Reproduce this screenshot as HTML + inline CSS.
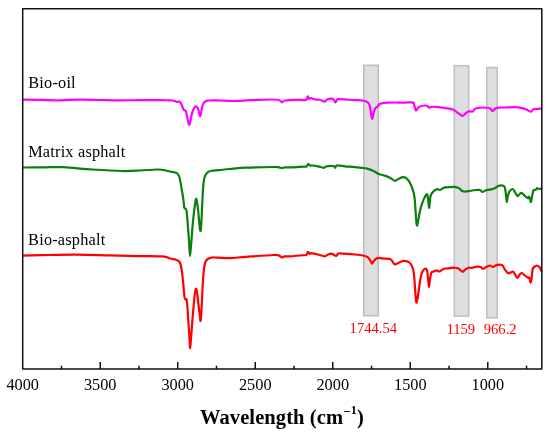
<!DOCTYPE html>
<html><head><meta charset="utf-8"><title>FTIR spectra</title>
<style>
html,body{margin:0;padding:0;background:#fff;}
body{width:550px;height:434px;overflow:hidden;}
svg{display:block;}
text{font-family:"Liberation Serif","Times New Roman",serif;}
</style></head><body>
<svg width="550" height="434" viewBox="0 0 550 434">
<rect x="0" y="0" width="550" height="434" fill="#fff"/>
<g fill="#dedede" stroke="#c0c0c0" stroke-width="1.6">
<rect x="363.8" y="65.3" width="14.4" height="250.4"/>
<rect x="454.3" y="65.7" width="14.4" height="250.4"/>
<rect x="486.8" y="67.6" width="10.4" height="250.2"/>
</g>
<g fill="none" stroke-width="2.2" stroke-linejoin="round" stroke-linecap="round">
<path stroke="#ff00ff" d="M23.0,99.7 C25.8,99.7 33.8,99.7 40.0,99.8 C46.2,99.9 53.3,100.3 60.0,100.3 C66.7,100.3 73.3,99.6 80.0,99.6 C86.7,99.5 93.3,99.9 100.0,100.0 C106.7,100.1 113.3,100.3 120.0,100.3 C126.7,100.3 133.3,100.2 140.0,100.2 C146.7,100.2 155.3,100.1 160.0,100.1 C164.7,100.1 165.9,100.2 168.0,100.3 C170.1,100.4 171.2,100.3 172.4,100.5 C173.6,100.7 174.7,101.0 175.4,101.2 C176.1,101.4 176.1,101.9 176.7,101.9 C177.3,101.9 178.2,101.2 178.9,101.4 C179.6,101.6 180.2,102.2 180.7,102.9 C181.2,103.6 181.6,104.6 182.0,105.6 C182.4,106.6 182.9,108.3 183.3,109.1 C183.7,109.9 184.2,110.1 184.6,110.4 C185.0,110.8 185.5,110.2 185.9,111.2 C186.3,112.2 186.7,114.7 187.1,116.5 C187.5,118.3 187.9,120.8 188.3,122.2 C188.7,123.6 189.0,124.9 189.3,124.8 C189.6,124.7 189.9,123.4 190.3,121.7 C190.7,120.0 191.1,116.7 191.6,114.7 C192.1,112.7 192.7,110.9 193.4,109.5 C194.1,108.1 195.0,106.8 195.6,106.4 C196.2,106.0 196.5,106.4 196.9,106.9 C197.3,107.4 197.8,108.3 198.2,109.5 C198.6,110.7 199.0,112.8 199.3,113.9 C199.6,115.0 199.9,116.2 200.2,116.1 C200.5,115.9 200.8,114.5 201.1,113.0 C201.4,111.5 201.7,108.5 202.1,106.9 C202.5,105.3 202.8,104.4 203.4,103.4 C204.0,102.5 204.7,101.7 205.6,101.2 C206.5,100.7 208.0,100.7 209.1,100.5 C210.2,100.3 210.2,100.3 212.0,100.3 C213.8,100.3 216.7,100.4 220.0,100.5 C223.3,100.6 227.0,101.0 232.0,101.0 C237.0,101.0 243.3,100.5 250.0,100.2 C256.7,100.0 267.2,99.5 272.0,99.5 C276.8,99.5 277.3,99.5 279.0,100.0 C280.7,100.5 281.0,102.2 282.0,102.3 C283.0,102.4 282.0,100.9 285.0,100.5 C288.0,100.1 296.5,100.0 300.0,99.9 C303.5,99.8 304.7,100.6 306.0,100.0 C307.3,99.4 307.3,96.7 307.8,96.5 C308.3,96.3 308.5,98.8 309.0,99.0 C309.5,99.2 310.0,97.9 311.0,98.0 C312.0,98.1 313.5,99.2 315.0,99.5 C316.5,99.8 318.4,99.4 320.0,99.8 C321.6,100.2 323.3,101.8 324.5,101.7 C325.7,101.7 325.8,100.0 327.0,99.5 C328.2,99.0 330.7,98.6 331.8,98.6 C332.9,98.6 332.9,98.9 333.5,99.5 C334.1,100.1 334.8,102.3 335.5,102.3 C336.2,102.2 336.8,99.7 337.5,99.2 C338.2,98.7 337.5,99.1 340.0,99.2 C342.9,99.3 351.4,99.9 355.0,100.1 C358.6,100.3 359.8,100.1 361.5,100.3 C363.2,100.5 364.4,100.9 365.5,101.3 C366.6,101.7 367.6,102.1 368.3,102.9 C369.0,103.7 369.5,104.8 369.9,106.1 C370.3,107.4 370.4,109.2 370.7,111.0 C371.0,112.8 371.2,115.3 371.5,116.6 C371.8,117.9 372.0,119.0 372.2,119.0 C372.4,119.0 372.6,117.8 372.9,116.6 C373.2,115.4 373.6,113.2 374.0,111.8 C374.4,110.4 374.8,108.8 375.2,108.1 C375.6,107.3 376.0,107.6 376.4,107.3 C376.8,107.0 377.1,107.0 377.6,106.5 C378.1,106.0 378.5,105.0 379.2,104.5 C379.9,104.0 380.2,103.6 381.6,103.3 C383.0,103.0 385.1,102.8 387.3,102.7 C389.5,102.6 392.1,102.5 395.0,102.5 C397.9,102.5 402.0,102.6 405.0,102.6 C408.0,102.6 411.4,102.0 413.0,102.6 C414.5,103.2 414.0,104.7 414.5,106.0 C415.0,107.3 415.4,110.2 416.0,110.5 C416.6,110.8 417.3,108.7 418.0,108.0 C418.7,107.3 418.8,106.9 420.0,106.5 C421.2,106.1 424.2,105.6 425.5,105.5 C426.8,105.4 426.9,105.6 427.5,106.0 C428.1,106.4 428.4,107.5 429.0,107.7 C429.6,107.9 429.8,107.2 431.0,107.0 C432.2,106.8 433.7,106.6 436.0,106.8 C438.3,107.0 442.2,107.5 445.0,108.0 C447.8,108.5 450.5,108.7 452.7,109.5 C454.9,110.3 456.4,111.9 458.0,113.0 C459.6,114.1 461.1,115.9 462.4,115.9 C463.7,115.9 464.9,113.8 466.0,113.0 C467.1,112.2 467.9,111.7 469.0,111.4 C470.1,111.1 471.5,111.9 472.7,111.4 C473.9,110.9 473.7,108.9 476.4,108.3 C479.1,107.7 486.3,107.5 489.0,108.0 C491.7,108.5 491.2,111.0 492.5,111.0 C493.8,111.0 494.4,108.5 496.5,107.9 C498.6,107.3 501.4,107.6 505.0,107.5 C508.6,107.4 514.5,107.0 518.0,107.3 C521.5,107.6 523.7,108.5 525.8,109.2 C527.9,109.9 529.4,111.7 530.7,111.7 C532.0,111.7 531.7,109.7 533.5,109.2 C535.3,108.7 540.2,108.6 541.5,108.5"/>
<path stroke="#0a800a" d="M23.0,167.5 C26.7,167.5 38.2,167.4 45.0,167.3 C51.8,167.2 55.6,166.8 63.6,167.2 C71.5,167.6 83.0,168.9 92.7,169.5 C102.4,170.1 113.9,170.8 121.8,171.0 C129.7,171.2 134.2,170.8 140.0,170.5 C145.8,170.2 152.9,169.6 156.7,169.5 C160.5,169.4 160.8,169.7 163.0,170.0 C165.2,170.3 167.7,171.0 170.0,171.5 C172.3,172.0 175.4,172.3 176.9,173.1 C178.4,173.9 178.4,174.0 179.2,176.5 C180.0,179.0 180.8,184.2 181.5,188.0 C182.2,191.8 182.9,196.3 183.4,199.6 C183.9,202.9 183.9,206.2 184.3,207.7 C184.7,209.2 185.3,208.2 185.7,208.8 C186.1,209.4 186.2,208.1 186.6,211.2 C187.0,214.3 187.6,221.9 188.0,227.3 C188.4,232.7 188.9,238.7 189.2,243.5 C189.5,248.3 189.7,256.2 190.0,256.2 C190.3,256.2 190.7,249.5 191.2,243.5 C191.7,237.5 192.4,227.3 193.1,220.4 C193.8,213.5 194.8,205.4 195.4,201.9 C196.0,198.4 196.0,198.1 196.5,199.6 C197.0,201.1 197.7,207.0 198.2,211.2 C198.7,215.4 199.1,221.7 199.5,225.0 C199.9,228.3 200.3,232.0 200.7,230.8 C201.0,229.7 201.2,224.4 201.6,218.1 C201.9,211.8 202.4,199.2 202.8,192.7 C203.2,186.1 203.5,182.1 204.2,178.8 C204.9,175.5 205.7,174.4 206.9,173.1 C208.1,171.8 209.5,171.3 211.5,170.8 C213.5,170.3 215.9,170.4 219.0,170.1 C222.1,169.8 225.4,169.4 230.0,169.0 C234.6,168.6 239.1,168.0 246.4,167.7 C253.7,167.4 268.2,167.1 273.6,167.0 C279.0,166.9 277.6,167.1 279.0,167.3 C280.4,167.5 280.8,168.1 281.8,168.1 C282.8,168.1 283.3,167.5 285.0,167.4 C286.7,167.3 288.6,167.5 291.8,167.4 C295.1,167.3 302.1,166.7 304.5,166.6 C306.5,166.5 305.9,167.0 306.5,166.6 C307.1,166.2 307.6,164.3 308.2,164.1 C308.8,163.9 309.4,165.3 310.0,165.5 C310.6,165.7 310.7,165.4 312.0,165.5 C313.3,165.6 316.1,165.9 318.0,166.3 C319.9,166.7 322.3,167.8 323.6,167.8 C324.9,167.8 324.8,166.8 326.0,166.5 C327.2,166.2 329.7,165.9 331.0,165.9 C332.3,165.9 333.3,166.0 334.0,166.3 C334.7,166.6 334.9,167.9 335.3,167.8 C335.8,167.7 335.3,165.8 336.7,165.5 C338.3,165.2 341.9,166.0 345.0,166.3 C348.1,166.6 352.2,166.9 355.0,167.2 C357.8,167.5 359.9,167.7 362.0,167.9 C364.1,168.1 365.2,168.0 367.3,168.6 C369.4,169.2 372.7,170.6 374.5,171.4 C376.3,172.2 376.4,172.9 378.2,173.7 C380.0,174.4 383.4,175.1 385.5,175.9 C387.6,176.7 389.3,177.5 390.9,178.3 C392.4,179.1 393.5,180.7 394.8,180.8 C396.1,180.9 397.5,179.3 398.9,178.7 C400.2,178.1 401.7,177.2 402.9,177.1 C404.1,177.0 405.0,177.4 406.1,178.2 C407.2,179.0 408.3,180.1 409.4,181.9 C410.5,183.7 411.8,186.6 412.6,189.2 C413.5,191.8 414.0,193.8 414.5,197.3 C415.0,200.8 415.2,206.2 415.5,210.2 C415.8,214.2 416.0,218.9 416.3,221.5 C416.6,224.1 416.8,225.7 417.1,225.5 C417.4,225.3 417.8,222.9 418.2,220.6 C418.6,218.3 419.2,214.4 419.8,211.8 C420.4,209.2 420.8,207.5 421.5,205.3 C422.2,203.2 423.1,200.7 423.9,198.9 C424.7,197.2 425.7,195.5 426.3,194.8 C426.9,194.1 427.0,193.6 427.4,194.8 C427.8,196.0 428.1,199.9 428.4,202.1 C428.7,204.2 428.9,208.5 429.2,207.7 C429.5,206.9 429.9,199.7 430.3,197.3 C430.8,194.9 431.1,194.4 431.9,193.2 C432.7,192.0 434.2,190.7 435.2,190.0 C436.1,189.3 436.8,189.2 437.6,189.2 C438.4,189.2 439.2,190.1 440.0,190.0 C440.8,189.9 441.5,188.8 442.4,188.4 C443.3,188.0 444.1,187.5 445.6,187.3 C447.1,187.1 449.8,187.2 451.3,187.1 C452.8,187.0 453.1,186.6 454.5,186.8 C455.9,187.0 458.2,187.7 459.4,188.4 C460.6,189.1 460.9,190.3 461.8,190.8 C462.7,191.3 463.8,191.6 465.0,191.6 C466.2,191.6 467.6,191.3 469.3,191.0 C471.1,190.7 473.7,190.2 475.5,190.0 C477.3,189.8 479.0,189.7 480.1,190.0 C481.2,190.3 481.5,191.9 482.4,192.0 C483.3,192.1 484.1,190.9 485.5,190.5 C486.9,190.1 489.3,189.8 490.9,189.4 C492.4,189.0 493.5,188.8 494.8,188.2 C496.1,187.6 497.3,186.3 498.6,185.9 C499.9,185.5 501.5,185.3 502.5,185.6 C503.5,185.8 504.2,185.7 504.8,187.4 C505.4,189.1 505.8,193.5 506.1,195.9 C506.4,198.3 506.5,202.1 506.8,202.1 C507.1,202.1 507.4,197.7 507.9,195.9 C508.3,194.1 508.7,192.5 509.5,191.3 C510.3,190.2 511.7,188.9 512.6,189.0 C513.5,189.1 514.1,190.8 514.9,192.0 C515.7,193.2 516.6,195.4 517.2,195.9 C517.8,196.4 518.1,195.6 518.7,195.1 C519.4,194.6 520.3,192.9 521.1,192.8 C521.9,192.7 522.6,193.8 523.4,194.4 C524.2,195.1 524.9,196.1 525.7,196.7 C526.5,197.3 527.4,198.2 528.0,198.2 C528.6,198.2 528.7,196.0 529.2,196.7 C529.7,197.3 530.3,202.0 530.8,202.1 C531.2,202.2 531.5,199.4 531.9,197.5 C532.3,195.6 532.8,191.8 533.4,190.5 C534.0,189.2 535.1,190.1 535.7,189.7 C536.4,189.3 536.8,188.3 537.3,188.2 C537.8,188.1 538.1,188.9 538.8,189.0 C539.5,189.1 541.0,188.6 541.5,188.5"/>
<path stroke="#ff0000" d="M23.0,255.6 C27.5,255.5 40.8,255.2 50.0,255.0 C59.2,254.8 68.0,254.6 78.0,254.7 C88.0,254.8 100.3,255.2 110.0,255.4 C119.7,255.6 127.7,255.9 136.4,256.1 C145.2,256.3 156.9,256.0 162.5,256.4 C168.1,256.8 167.8,257.9 170.0,258.5 C172.2,259.1 174.4,259.1 176.0,259.7 C177.6,260.3 178.8,260.5 179.7,262.1 C180.6,263.7 181.0,265.8 181.6,269.4 C182.2,273.0 182.8,279.3 183.3,283.9 C183.8,288.5 184.1,294.6 184.5,297.2 C184.9,299.8 185.3,299.0 185.7,299.6 C186.1,300.2 186.5,297.8 186.9,300.8 C187.3,303.8 187.7,311.6 188.1,317.7 C188.5,323.8 189.1,332.1 189.4,337.1 C189.7,342.2 189.8,348.4 190.1,348.0 C190.4,347.6 190.8,340.6 191.3,334.7 C191.8,328.8 192.4,319.8 193.0,312.9 C193.6,306.0 194.4,297.6 194.9,293.6 C195.4,289.6 195.5,288.9 195.9,288.7 C196.3,288.5 196.7,289.5 197.1,292.3 C197.5,295.1 198.1,301.4 198.6,305.6 C199.1,309.8 199.7,315.3 200.0,317.7 C200.3,320.1 200.4,322.2 200.7,320.2 C201.0,318.2 201.3,312.5 201.7,305.6 C202.1,298.7 202.6,285.6 203.1,279.0 C203.6,272.4 203.8,268.9 204.4,265.7 C205.0,262.5 205.7,261.0 206.8,259.7 C207.9,258.4 209.7,258.1 211.1,257.7 C212.5,257.3 213.7,257.5 215.0,257.5 C216.3,257.5 216.5,257.6 219.0,257.7 C221.5,257.8 225.5,258.2 230.0,258.1 C234.5,258.0 238.7,257.3 246.0,256.8 C253.3,256.3 268.1,255.2 273.6,255.0 C279.0,254.8 277.6,255.2 279.0,255.6 C280.4,256.0 281.0,257.3 282.0,257.4 C283.0,257.5 283.5,256.5 285.0,256.3 C286.5,256.1 287.7,256.5 291.0,256.3 C294.3,256.1 302.4,255.2 305.0,255.0 C306.5,254.8 306.0,255.5 306.5,255.0 C307.0,254.5 307.5,252.0 308.0,251.8 C308.5,251.6 309.0,253.8 309.5,254.0 C310.0,254.2 309.6,253.0 311.0,253.1 C312.4,253.2 315.8,253.9 318.0,254.5 C320.2,255.1 322.8,256.4 324.5,256.4 C326.2,256.4 326.9,255.0 328.0,254.5 C329.1,254.0 330.1,253.6 331.0,253.6 C331.9,253.6 332.7,254.1 333.5,254.5 C334.3,254.9 335.2,256.1 336.0,256.0 C336.8,255.9 337.3,254.2 338.0,253.8 C338.7,253.4 338.0,253.2 340.0,253.3 C342.8,253.4 351.2,254.1 355.0,254.5 C358.8,254.9 360.8,255.0 363.0,255.5 C365.2,256.0 366.8,256.4 368.0,257.3 C369.2,258.2 369.8,259.9 370.5,261.0 C371.2,262.1 371.5,263.5 372.0,263.6 C372.5,263.7 372.9,262.2 373.5,261.5 C374.1,260.8 374.8,259.7 375.5,259.1 C376.2,258.6 376.4,258.3 378.0,258.2 C379.6,258.1 382.8,258.4 385.0,258.6 C387.2,258.8 389.4,258.7 391.0,259.6 C392.6,260.5 393.1,263.7 394.4,264.2 C395.7,264.7 397.2,263.4 398.7,262.8 C400.1,262.2 401.6,261.1 403.1,260.9 C404.6,260.7 406.2,261.0 407.5,261.6 C408.8,262.2 410.1,263.0 411.1,264.5 C412.1,266.0 412.8,268.0 413.3,270.4 C413.9,272.8 414.1,275.7 414.4,279.1 C414.7,282.5 414.9,287.3 415.2,290.7 C415.4,294.1 415.7,297.5 415.9,299.5 C416.1,301.5 416.3,302.9 416.6,302.7 C416.9,302.4 417.2,300.5 417.6,298.0 C418.0,295.5 418.6,291.3 419.1,287.8 C419.6,284.3 420.2,279.7 420.8,276.9 C421.4,274.1 421.9,272.5 422.7,271.1 C423.5,269.7 424.9,268.7 425.6,268.6 C426.3,268.5 426.7,268.6 427.1,270.4 C427.5,272.1 427.8,276.3 428.1,279.1 C428.4,281.9 428.7,287.1 429.0,287.1 C429.3,287.1 429.6,281.5 430.0,279.1 C430.4,276.7 430.9,273.8 431.5,272.5 C432.1,271.2 432.8,271.9 433.6,271.5 C434.4,271.1 435.5,270.4 436.5,270.4 C437.5,270.4 438.5,271.6 439.5,271.5 C440.5,271.4 441.4,270.1 442.4,269.6 C443.4,269.1 444.1,268.7 445.3,268.5 C446.5,268.3 448.2,268.3 449.6,268.2 C451.1,268.1 452.5,267.6 454.0,267.7 C455.5,267.8 457.0,267.8 458.4,268.5 C459.8,269.2 461.5,271.4 462.5,271.7 C463.5,272.0 463.6,270.8 464.6,270.1 C465.6,269.5 467.2,268.2 468.5,267.8 C469.8,267.4 471.0,268.0 472.4,267.8 C473.8,267.6 475.6,266.8 477.0,266.7 C478.4,266.6 479.9,266.6 480.9,267.0 C481.9,267.4 482.0,268.9 482.9,268.9 C483.8,268.9 485.1,267.6 486.3,267.0 C487.5,266.4 489.0,265.5 490.1,265.5 C491.2,265.5 491.8,267.1 492.8,267.0 C493.8,266.9 495.1,265.5 496.3,265.1 C497.5,264.7 499.2,264.6 500.2,264.7 C501.2,264.8 501.7,264.7 502.5,265.5 C503.3,266.3 503.9,268.0 504.8,269.3 C505.7,270.6 506.9,272.7 507.9,273.2 C508.9,273.7 510.1,272.7 511.0,272.4 C511.9,272.1 512.5,271.1 513.3,271.6 C514.1,272.1 514.9,274.5 515.6,275.5 C516.3,276.5 516.9,277.9 517.5,277.8 C518.1,277.7 518.8,275.5 519.5,274.7 C520.2,273.9 520.9,273.1 521.8,273.2 C522.7,273.3 523.9,274.7 524.9,275.5 C525.9,276.3 527.3,277.5 528.0,277.8 C528.7,278.1 528.8,276.7 529.2,277.5 C529.6,278.3 530.1,282.3 530.5,282.5 C530.9,282.7 531.2,280.8 531.6,278.6 C532.0,276.4 532.2,271.2 532.6,269.3 C533.0,267.4 533.4,267.6 534.2,267.0 C535.0,266.4 536.4,265.4 537.3,265.5 C538.2,265.6 538.9,266.4 539.6,267.3 C540.3,268.2 541.2,270.4 541.5,271.0"/>
</g>
<g stroke="#111" stroke-width="1.5" fill="none" stroke-linejoin="round">
<path d="M22.7,8.7 H541.8 V369.0 H22.7 Z"/>
<line x1="61.46" y1="369.00" x2="61.46" y2="365.70"/><line x1="100.22" y1="369.00" x2="100.22" y2="362.00"/><line x1="138.97" y1="369.00" x2="138.97" y2="365.70"/><line x1="177.73" y1="369.00" x2="177.73" y2="362.00"/><line x1="216.49" y1="369.00" x2="216.49" y2="365.70"/><line x1="255.25" y1="369.00" x2="255.25" y2="362.00"/><line x1="294.00" y1="369.00" x2="294.00" y2="365.70"/><line x1="332.76" y1="369.00" x2="332.76" y2="362.00"/><line x1="371.52" y1="369.00" x2="371.52" y2="365.70"/><line x1="410.27" y1="369.00" x2="410.27" y2="362.00"/><line x1="449.03" y1="369.00" x2="449.03" y2="365.70"/><line x1="487.79" y1="369.00" x2="487.79" y2="362.00"/><line x1="526.55" y1="369.00" x2="526.55" y2="365.70"/>
</g>
<g font-size="16.3" fill="#000" text-anchor="middle">
<text x="22.70" y="389.6">4000</text><text x="100.22" y="389.6">3500</text><text x="177.73" y="389.6">3000</text><text x="255.25" y="389.6">2500</text><text x="332.76" y="389.6">2000</text><text x="410.27" y="389.6">1500</text><text x="487.79" y="389.6">1000</text>
</g>
<g font-size="16.3" fill="#000" letter-spacing="0.2">
<text x="28.3" y="87.7">Bio-oil</text>
<text x="28.2" y="156.6">Matrix asphalt</text>
<text x="28.1" y="245.4">Bio-asphalt</text>
</g>
<g font-size="14.6" fill="#ff0000" text-anchor="middle">
<text x="373.3" y="333.3">1744.54</text>
<text x="460.8" y="333.6">1159</text>
<text x="500.2" y="333.6">966.2</text>
</g>
<text x="281.9" y="423.7" font-size="20.5" font-weight="bold" fill="#000" text-anchor="middle" letter-spacing="0.1">Wavelength (cm<tspan font-size="13" dy="-8">&#8722;</tspan><tspan font-size="12.2" dy="-1.3">1</tspan><tspan dy="9.3">)</tspan></text>
</svg>
</body></html>
